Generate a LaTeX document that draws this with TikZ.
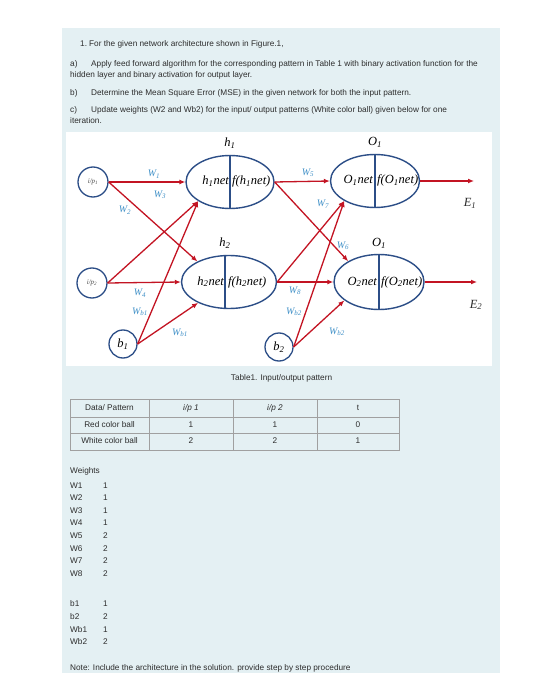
\documentclass[tikz,border=0pt]{standalone}
\usepackage{fontspec}
\setmainfont{Liberation Sans}
\newfontfamily\tms{Liberation Serif}
\usetikzlibrary{
    positioning,
    arrows.meta,
    shapes.geometric
}
\definecolor{panelblue}{RGB}{228,240,243}
\definecolor{netred}{RGB}{195,20,35}
\definecolor{navy}{RGB}{44,78,135}
\definecolor{wblue}{RGB}{65,145,200}
\definecolor{bodygray}{RGB}{45,45,45}
\definecolor{rulegray}{RGB}{160,160,160}

\begin{document}
\begin{tikzpicture}[
    x=1pt, y=-1pt,
    % Text styles
    body/.style={inner sep=0pt, text=bodygray, font=\fontsize{8.25}{11}\selectfont, anchor=base west},
    cell/.style={inner sep=0pt, text=bodygray, font=\fontsize{8.25}{11}\selectfont, text height=6pt, text depth=1.6pt},
    % Node styles
    inode/.style={circle, draw=navy, line width=1.3pt, minimum size=30pt, inner sep=0pt, text=black!70, font=\tms\itshape\fontsize{7}{8}\selectfont},
    bnode/.style={circle, draw=navy, line width=1.3pt, minimum size=28pt, inner sep=0pt, font=\tms\itshape\fontsize{12.5}{13}\selectfont},
    neuron/.style={ellipse, draw=navy, line width=1.4pt, minimum height=53pt, inner sep=0pt},
    ntext/.style={inner sep=0pt, font=\tms\itshape\fontsize{12.5}{13}\selectfont, text height=9pt, text depth=3pt},
    weight/.style={inner sep=0pt, text=wblue, font=\tms\itshape\fontsize{10}{11}\selectfont},
    % Arrow styles
    wire/.style={-{Latex[length=6pt,width=5pt]}, draw=netred, line width=1.3pt},
    divider/.style={draw=navy, line width=1.4pt}
]
\useasboundingbox (0,0) rectangle (558,700);

% --- Panels ---
\fill[panelblue] (62,28) rectangle (500,673);
\fill[white] (66,132) rectangle (492,366);

% --- Question text ---
\node[body] (q1) at (80,46.5) {\makebox[9pt][l]{1.}For the given network architecture shown in Figure.1,};
\node[body] (qa) at (70,67) {\makebox[21pt][l]{a)}Apply feed forward algorithm for the corresponding pattern in Table 1 with binary activation function for the};
\node[body] (qa2) at (70,78) {hidden layer and binary activation for output layer.};
\node[body] (qb) at (70,96) {\makebox[21pt][l]{b)}Determine the Mean Square Error (MSE) in the given network for both the input pattern.};
\node[body] (qc) at (70,113) {\makebox[21pt][l]{c)}Update weights (W2 and Wb2) for the input/ output patterns (White color ball) given below for one};
\node[body] (qc2) at (70,124) {iteration.};

% === INPUT LAYER ===
\node[inode] (ip1) at (93,182) {i/p\textsubscript{1}};
\node[inode] (ip2) at (92,283) {i/p\textsubscript{2}};
\node[bnode] (b1) at (123,344) {b\textsubscript{1}};

% === HIDDEN LAYER ===
\node[neuron, minimum width=88pt] (h1) at (230,182) {};
\node[neuron, minimum width=95pt] (h2) at (229,282) {};
\node[bnode] (b2) at (279,347) {b\textsubscript{2}};
\draw[divider] (h1.north) -- (h1.south);
\draw[divider] ([xshift=-4pt]h2.north) -- ([xshift=-4pt]h2.south);
\node[ntext] (h1n) [left=1pt of h1.center] {h\textsubscript{1}net};
\node[ntext] (h1f) [right=2pt of h1.center] {f(h\textsubscript{1}net)};
\node[ntext] (h2n) [left=5pt of h2.center] {h\textsubscript{2}net};
\node[ntext] (h2f) [right=-1pt of h2.center] {f(h\textsubscript{2}net)};
\node[ntext] (h1lab) [above=5pt of h1] {h\textsubscript{1}};
\node[ntext] (h2lab) [above=5pt of h2, xshift=-4pt] {h\textsubscript{2}};

% === OUTPUT LAYER ===
\node[neuron, minimum width=89pt] (o1) at (375,181) {};
\node[neuron, minimum width=90pt, minimum height=55pt] (o2) at (379,282) {};
\draw[divider] (o1.north) -- (o1.south);
\draw[divider] (o2.north) -- (o2.south);
\node[ntext] (o1n) [left=2pt of o1.center] {O\textsubscript{1}net};
\node[ntext] (o1f) [right=2pt of o1.center] {f(O\textsubscript{1}net)};
\node[ntext] (o2n) [left=2pt of o2.center] {O\textsubscript{2}net};
\node[ntext] (o2f) [right=2pt of o2.center] {f(O\textsubscript{2}net)};
\node[ntext] (o1lab) [above=5pt of o1] {O\textsubscript{1}};
\node[ntext] (o2lab) [above=4pt of o2] {O\textsubscript{1}};

\coordinate (e1end) at (474,181);
\coordinate (e2end) at (477,282);
\node[ntext, text=bodygray] (e1) at (470,204) {E\textsubscript{1}};
\node[ntext, text=bodygray] (e2) at (476,305) {E\textsubscript{2}};

% --- Input -> hidden ---
\draw[wire] (ip1.east) -- (h1.west);
\draw[wire] (ip1.east) -- (h2.147);
\draw[wire] (ip2.east) -- (h1.211);
\draw[wire] (ip2.east) -- (h2.west);
\draw[wire] (b1.east) -- (h1.211);
\draw[wire] (b1.east) -- (h2.214);

% --- Hidden -> output ---
\draw[wire] (h1.east) -- (o1.west);
\draw[wire] (h1.east) -- (o2.146);
\draw[wire] (h2.east) -- (o1.213);
\draw[wire] (h2.east) -- (o2.west);
\draw[wire] (b2.east) -- (o1.213);
\draw[wire] (b2.east) -- (o2.208);

% --- Output -> error ---
\draw[wire] (o1.east) -- (e1end);
\draw[wire] (o2.east) -- (e2end);

% --- Weight labels ---
\node[weight] (w1) at (154,174) {W\textsubscript{1}};
\node[weight] (w3) at (160,195) {W\textsubscript{3}};
\node[weight] (w2) at (125,210) {W\textsubscript{2}};
\node[weight] (w4) at (140,293) {W\textsubscript{4}};
\node[weight] (wb1a) at (140,312) {W\textsubscript{b1}};
\node[weight] (wb1b) at (180,333) {W\textsubscript{b1}};
\node[weight] (w5) at (308,173) {W\textsubscript{5}};
\node[weight] (w7) at (323,204) {W\textsubscript{7}};
\node[weight] (w6) at (343,246) {W\textsubscript{6}};
\node[weight] (w8) at (295,291) {W\textsubscript{8}};
\node[weight] (wb2a) at (294,312) {W\textsubscript{b2}};
\node[weight] (wb2b) at (337,332) {W\textsubscript{b2}};

% === TABLE 1 ===
\node[body, anchor=base] (tcap) at (281.5,380) {Table1. Input/output pattern};
\draw[rulegray, line width=0.8pt] (70,399) rectangle (399,450);
\draw[rulegray, line width=0.8pt] (70,417) -- (399,417) (70,433) -- (399,433);
\draw[rulegray, line width=0.8pt] (149,399) -- (149,450) (233,399) -- (233,450) (317,399) -- (317,450);
\node[cell] (c11) at (109.5,408) {Data/ Pattern};
\node[cell] (c12) at (191,408) {\itshape i/p 1};
\node[cell] (c13) at (275,408) {\itshape i/p 2};
\node[cell] (c14) at (358,408) {t};
\node[cell] (c21) at (109.5,425) {Red color ball};
\node[cell] (c22) at (191,425) {1};
\node[cell] (c23) at (275,425) {1};
\node[cell] (c24) at (358,425) {0};
\node[cell] (c31) at (109.5,441.5) {White color ball};
\node[cell] (c32) at (191,441.5) {2};
\node[cell] (c33) at (275,441.5) {2};
\node[cell] (c34) at (358,441.5) {1};

% --- Weights list ---
\node[body, anchor=north west, align=left, font=\fontsize{8.25}{12.6}\selectfont] (wts) at (70,467)
    {Weights\\[2.4pt]
     \makebox[33pt][l]{W1}1\\
     \makebox[33pt][l]{W2}1\\
     \makebox[33pt][l]{W3}1\\
     \makebox[33pt][l]{W4}1\\
     \makebox[33pt][l]{W5}2\\
     \makebox[33pt][l]{W6}2\\
     \makebox[33pt][l]{W7}2\\
     \makebox[33pt][l]{W8}2\\[18pt]
     \makebox[33pt][l]{b1}1\\
     \makebox[33pt][l]{b2}2\\
     \makebox[33pt][l]{Wb1}1\\
     \makebox[33pt][l]{Wb2}2};

\node[body] (note) at (70,670) {Note: Include the architecture in the solution. provide step by step procedure};

\end{tikzpicture}
\end{document}
